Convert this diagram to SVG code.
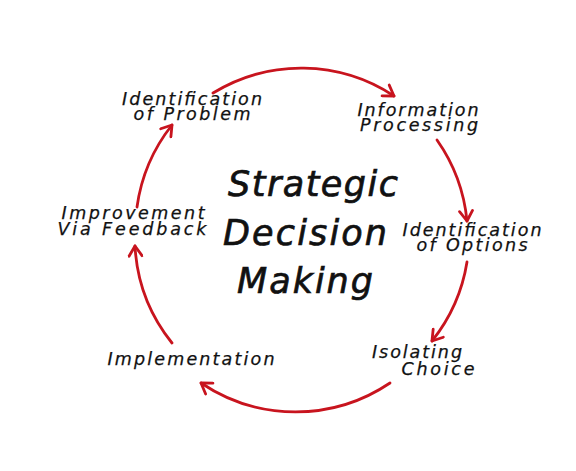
<svg xmlns="http://www.w3.org/2000/svg" width="576" height="471" viewBox="0 0 576 471">
<style>
.lbl{font-family:"DejaVu Sans","Liberation Sans",sans-serif;font-style:italic;font-size:17.5px;fill:#111;stroke:#111;stroke-width:0.25;text-anchor:middle}
.big{font-family:"DejaVu Sans","Liberation Sans",sans-serif;font-style:italic;font-size:35px;fill:#111;stroke:#111;stroke-width:0.7;text-anchor:middle}
.arc{fill:none;stroke:#c8141e;stroke-width:2.8;stroke-linecap:round;marker-end:url(#ah)}
</style>
<defs>
<marker id="ah" markerUnits="userSpaceOnUse" viewBox="-12 -8 14 16" refX="0" refY="0" markerWidth="14" markerHeight="16" orient="auto">
<path d="M-10,-6.5 L0,0 L-10,6.5" fill="none" stroke="#c8141e" stroke-width="2.8" stroke-linecap="round" stroke-linejoin="round"/>
</marker>
</defs>
<rect width="576" height="471" fill="#fff"/>
<g id="connectors">
<path class="arc" d="M213,93 A169,169 0 0 1 394,96"/>
<path class="arc" d="M437,140 A169,169 0 0 1 467,221"/>
<path class="arc" d="M467,262 A169,169 0 0 1 432,341"/>
<path class="arc" d="M390,383 A169,169 0 0 1 201,383"/>
<path class="arc" d="M172,343 A169,169 0 0 1 135,246"/>
<path class="arc" d="M137,207 A169,169 0 0 1 172,125"/>
</g>
<g id="center">
<text class="big" x="313" y="196" textLength="170" lengthAdjust="spacing">Strategic</text>
<text class="big" x="305" y="245" textLength="164" lengthAdjust="spacing">Decision</text>
<text class="big" x="305" y="293" textLength="136" lengthAdjust="spacing">Making</text>
</g>
<g id="n1">
<text class="lbl" x="192" y="105" textLength="140" lengthAdjust="spacing">Identification</text>
<text class="lbl" x="192" y="120" textLength="117" lengthAdjust="spacing">of Problem</text>
</g>
<g id="n2">
<text class="lbl" x="418" y="116" textLength="121" lengthAdjust="spacing">Information</text>
<text class="lbl" x="419" y="131" textLength="118" lengthAdjust="spacing">Processing</text>
</g>
<g id="n3">
<text class="lbl" x="472" y="236" textLength="139" lengthAdjust="spacing">Identification</text>
<text class="lbl" x="472" y="251" textLength="111" lengthAdjust="spacing">of Options</text>
</g>
<g id="n4">
<text class="lbl" x="417" y="358" textLength="90" lengthAdjust="spacing">Isolating</text>
<text class="lbl" x="438" y="375" textLength="73" lengthAdjust="spacing">Choice</text>
</g>
<g id="n5">
<text class="lbl" x="191" y="365" textLength="167" lengthAdjust="spacing">Implementation</text>
</g>
<g id="n6">
<text class="lbl" x="133" y="219" textLength="143" lengthAdjust="spacing">Improvement</text>
<text class="lbl" x="132" y="235" textLength="149" lengthAdjust="spacing">Via Feedback</text>
</g>
</svg>
